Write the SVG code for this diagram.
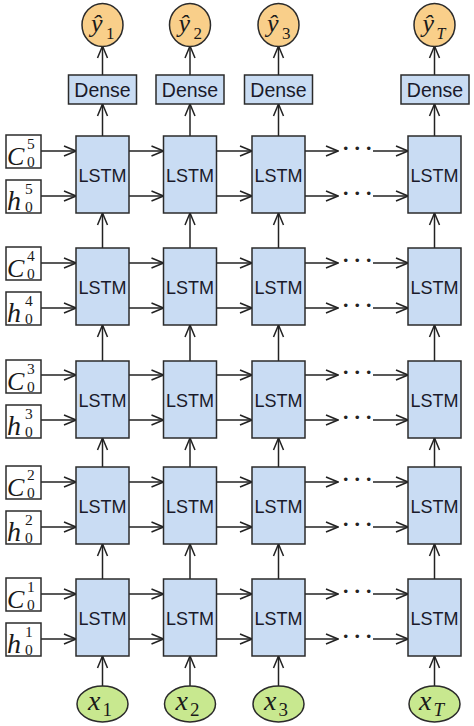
<svg xmlns="http://www.w3.org/2000/svg" width="474" height="726" viewBox="0 0 474 726">
<defs>
<style>
.lstm{fill:#c9dcf3;stroke:#2b2b2b;stroke-width:1.5}
.dense{fill:#c9dcf3;stroke:#2b2b2b;stroke-width:1.5}
.init{fill:#fff;stroke:#2b2b2b;stroke-width:1.5}
.out{fill:#f9cf8a;stroke:#2b2b2b;stroke-width:1.5}
.in{fill:#c8e88f;stroke:#2b2b2b;stroke-width:1.5}
.lbl{font-family:"Liberation Sans",Arial,sans-serif;fill:#1a1a2a;text-anchor:middle}
.m{font-family:"Liberation Serif","Times New Roman",serif;font-style:italic;fill:#1a1a1a}
.n{font-family:"Liberation Serif","Times New Roman",serif;fill:#1a1a1a}
.s{font-family:"Liberation Serif","Times New Roman",serif;fill:#1a1a1a;font-size:15.5px}
.c line{stroke:#222;stroke-width:1.5;marker-end:url(#ah)}
.dots{font-family:"Liberation Serif",serif;font-size:30px;fill:#222;text-anchor:middle;letter-spacing:1.5px}
</style>
<marker id="ah" markerUnits="userSpaceOnUse" markerWidth="15" markerHeight="13" viewBox="-14 -6.5 15 13" refX="0" refY="0" orient="auto">
<path d="M-12,-5 L0,0 L-12,5" fill="none" stroke="#222" stroke-width="1.5"/>
</marker>
</defs>

<g class="c" id="connectors">
<line x1="102.5" y1="686" x2="102.5" y2="656"/>
<line x1="190" y1="686" x2="190" y2="656"/>
<line x1="278.5" y1="686" x2="278.5" y2="656"/>
<line x1="434.5" y1="686" x2="434.5" y2="656"/>
<line x1="102.5" y1="579" x2="102.5" y2="544"/>
<line x1="190" y1="579" x2="190" y2="544"/>
<line x1="278.5" y1="579" x2="278.5" y2="544"/>
<line x1="434.5" y1="579" x2="434.5" y2="544"/>
<line x1="102.5" y1="467" x2="102.5" y2="438"/>
<line x1="190" y1="467" x2="190" y2="438"/>
<line x1="278.5" y1="467" x2="278.5" y2="438"/>
<line x1="434.5" y1="467" x2="434.5" y2="438"/>
<line x1="102.5" y1="361" x2="102.5" y2="325"/>
<line x1="190" y1="361" x2="190" y2="325"/>
<line x1="278.5" y1="361" x2="278.5" y2="325"/>
<line x1="434.5" y1="361" x2="434.5" y2="325"/>
<line x1="102.5" y1="248" x2="102.5" y2="213"/>
<line x1="190" y1="248" x2="190" y2="213"/>
<line x1="278.5" y1="248" x2="278.5" y2="213"/>
<line x1="434.5" y1="248" x2="434.5" y2="213"/>
<line x1="102.5" y1="136" x2="102.5" y2="104"/>
<line x1="190" y1="136" x2="190" y2="104"/>
<line x1="278.5" y1="136" x2="278.5" y2="104"/>
<line x1="434.5" y1="136" x2="434.5" y2="104"/>
<line x1="102.5" y1="75" x2="102.5" y2="46"/>
<line x1="190" y1="75" x2="190" y2="46"/>
<line x1="278.5" y1="75" x2="278.5" y2="46"/>
<line x1="434.5" y1="75" x2="434.5" y2="46"/>
<line x1="41" y1="151" x2="76" y2="151"/><line x1="129" y1="151" x2="163.5" y2="151"/><line x1="216.5" y1="151" x2="252" y2="151"/><line x1="305" y1="151" x2="338" y2="151"/><line x1="373" y1="151" x2="408" y2="151"/>
<line x1="41" y1="196" x2="76" y2="196"/><line x1="129" y1="196" x2="163.5" y2="196"/><line x1="216.5" y1="196" x2="252" y2="196"/><line x1="305" y1="196" x2="338" y2="196"/><line x1="373" y1="196" x2="408" y2="196"/>
<line x1="41" y1="263" x2="76" y2="263"/><line x1="129" y1="263" x2="163.5" y2="263"/><line x1="216.5" y1="263" x2="252" y2="263"/><line x1="305" y1="263" x2="338" y2="263"/><line x1="373" y1="263" x2="408" y2="263"/>
<line x1="41" y1="308" x2="76" y2="308"/><line x1="129" y1="308" x2="163.5" y2="308"/><line x1="216.5" y1="308" x2="252" y2="308"/><line x1="305" y1="308" x2="338" y2="308"/><line x1="373" y1="308" x2="408" y2="308"/>
<line x1="41" y1="375" x2="76" y2="375"/><line x1="129" y1="375" x2="163.5" y2="375"/><line x1="216.5" y1="375" x2="252" y2="375"/><line x1="305" y1="375" x2="338" y2="375"/><line x1="373" y1="375" x2="408" y2="375"/>
<line x1="41" y1="420" x2="76" y2="420"/><line x1="129" y1="420" x2="163.5" y2="420"/><line x1="216.5" y1="420" x2="252" y2="420"/><line x1="305" y1="420" x2="338" y2="420"/><line x1="373" y1="420" x2="408" y2="420"/>
<line x1="41" y1="482" x2="76" y2="482"/><line x1="129" y1="482" x2="163.5" y2="482"/><line x1="216.5" y1="482" x2="252" y2="482"/><line x1="305" y1="482" x2="338" y2="482"/><line x1="373" y1="482" x2="408" y2="482"/>
<line x1="41" y1="527" x2="76" y2="527"/><line x1="129" y1="527" x2="163.5" y2="527"/><line x1="216.5" y1="527" x2="252" y2="527"/><line x1="305" y1="527" x2="338" y2="527"/><line x1="373" y1="527" x2="408" y2="527"/>
<line x1="41" y1="594" x2="76" y2="594"/><line x1="129" y1="594" x2="163.5" y2="594"/><line x1="216.5" y1="594" x2="252" y2="594"/><line x1="305" y1="594" x2="338" y2="594"/><line x1="373" y1="594" x2="408" y2="594"/>
<line x1="41" y1="639" x2="76" y2="639"/><line x1="129" y1="639" x2="163.5" y2="639"/><line x1="216.5" y1="639" x2="252" y2="639"/><line x1="305" y1="639" x2="338" y2="639"/><line x1="373" y1="639" x2="408" y2="639"/>
</g>
<g id="ellipsis">
<text class="dots" x="358" y="158">···</text>
<text class="dots" x="358" y="203">···</text>
<text class="dots" x="358" y="270">···</text>
<text class="dots" x="358" y="315">···</text>
<text class="dots" x="358" y="382">···</text>
<text class="dots" x="358" y="427">···</text>
<text class="dots" x="358" y="489">···</text>
<text class="dots" x="358" y="534">···</text>
<text class="dots" x="358" y="601">···</text>
<text class="dots" x="358" y="646">···</text>
</g>

<g id="lstm-l5">
<rect class="lstm" x="76" y="136" width="53" height="77"/><text class="lbl" x="102.5" y="182" font-size="18">LSTM</text>
<rect class="lstm" x="163.5" y="136" width="53" height="77"/><text class="lbl" x="190" y="182" font-size="18">LSTM</text>
<rect class="lstm" x="252" y="136" width="53" height="77"/><text class="lbl" x="278.5" y="182" font-size="18">LSTM</text>
<rect class="lstm" x="408" y="136" width="53" height="77"/><text class="lbl" x="434.5" y="182" font-size="18">LSTM</text>
</g>
<g id="lstm-l4">
<rect class="lstm" x="76" y="248" width="53" height="77"/><text class="lbl" x="102.5" y="294" font-size="18">LSTM</text>
<rect class="lstm" x="163.5" y="248" width="53" height="77"/><text class="lbl" x="190" y="294" font-size="18">LSTM</text>
<rect class="lstm" x="252" y="248" width="53" height="77"/><text class="lbl" x="278.5" y="294" font-size="18">LSTM</text>
<rect class="lstm" x="408" y="248" width="53" height="77"/><text class="lbl" x="434.5" y="294" font-size="18">LSTM</text>
</g>
<g id="lstm-l3">
<rect class="lstm" x="76" y="361" width="53" height="77"/><text class="lbl" x="102.5" y="407" font-size="18">LSTM</text>
<rect class="lstm" x="163.5" y="361" width="53" height="77"/><text class="lbl" x="190" y="407" font-size="18">LSTM</text>
<rect class="lstm" x="252" y="361" width="53" height="77"/><text class="lbl" x="278.5" y="407" font-size="18">LSTM</text>
<rect class="lstm" x="408" y="361" width="53" height="77"/><text class="lbl" x="434.5" y="407" font-size="18">LSTM</text>
</g>
<g id="lstm-l2">
<rect class="lstm" x="76" y="467" width="53" height="77"/><text class="lbl" x="102.5" y="513" font-size="18">LSTM</text>
<rect class="lstm" x="163.5" y="467" width="53" height="77"/><text class="lbl" x="190" y="513" font-size="18">LSTM</text>
<rect class="lstm" x="252" y="467" width="53" height="77"/><text class="lbl" x="278.5" y="513" font-size="18">LSTM</text>
<rect class="lstm" x="408" y="467" width="53" height="77"/><text class="lbl" x="434.5" y="513" font-size="18">LSTM</text>
</g>
<g id="lstm-l1">
<rect class="lstm" x="76" y="579" width="53" height="77"/><text class="lbl" x="102.5" y="625" font-size="18">LSTM</text>
<rect class="lstm" x="163.5" y="579" width="53" height="77"/><text class="lbl" x="190" y="625" font-size="18">LSTM</text>
<rect class="lstm" x="252" y="579" width="53" height="77"/><text class="lbl" x="278.5" y="625" font-size="18">LSTM</text>
<rect class="lstm" x="408" y="579" width="53" height="77"/><text class="lbl" x="434.5" y="625" font-size="18">LSTM</text>
</g>

<g id="dense">
<rect class="dense" x="68.5" y="75" width="68" height="29"/><text class="lbl" x="102.5" y="97" font-size="19.5">Dense</text>
<rect class="dense" x="156" y="75" width="68" height="29"/><text class="lbl" x="190" y="97" font-size="19.5">Dense</text>
<rect class="dense" x="244.5" y="75" width="68" height="29"/><text class="lbl" x="278.5" y="97" font-size="19.5">Dense</text>
<rect class="dense" x="401" y="75" width="68" height="29"/><text class="lbl" x="435" y="97" font-size="19.5">Dense</text>
</g>

<g id="outputs">
<ellipse class="out" cx="102.5" cy="25" rx="20.5" ry="21.5"/><text class="m" x="91" y="32" font-size="26">ŷ</text><text class="n" x="106" y="39" font-size="17">1</text>
<ellipse class="out" cx="190" cy="25" rx="20.5" ry="21.5"/><text class="m" x="178.5" y="32" font-size="26">ŷ</text><text class="n" x="193.5" y="39" font-size="17">2</text>
<ellipse class="out" cx="278.5" cy="25" rx="20.5" ry="21.5"/><text class="m" x="267" y="32" font-size="26">ŷ</text><text class="n" x="282" y="39" font-size="17">3</text>
<ellipse class="out" cx="434.5" cy="25" rx="20.5" ry="21.5"/><text class="m" x="422.5" y="32" font-size="26">ŷ</text><text class="m" x="436.5" y="39" font-size="16">T</text>
</g>

<g id="inputs">
<ellipse class="in" cx="102.5" cy="704" rx="25.5" ry="18"/><text class="m" x="88" y="710" font-size="28">x</text><text class="n" x="102.5" y="716" font-size="19">1</text>
<ellipse class="in" cx="190" cy="704" rx="25.5" ry="18"/><text class="m" x="175.5" y="710" font-size="28">x</text><text class="n" x="190" y="716" font-size="19">2</text>
<ellipse class="in" cx="278.5" cy="704" rx="25.5" ry="18"/><text class="m" x="264" y="710" font-size="28">x</text><text class="n" x="278.5" y="716" font-size="19">3</text>
<ellipse class="in" cx="434.5" cy="704" rx="25.5" ry="18"/><text class="m" x="419" y="710" font-size="28">x</text><text class="m" x="433.5" y="716" font-size="19">T</text>
</g>

<g id="init-5">
<rect class="init" x="6" y="135" width="35" height="33"/><text class="m" x="7" y="165" font-size="26">C</text><text class="s" x="27" y="149">5</text><text class="s" x="27" y="166.5">0</text>
<rect class="init" x="6" y="180" width="35" height="33"/><text class="m" x="7" y="210" font-size="28">h</text><text class="s" x="25" y="194">5</text><text class="s" x="25" y="211.5">0</text>
</g>
<g id="init-4">
<rect class="init" x="6" y="247" width="35" height="33"/><text class="m" x="7" y="277" font-size="26">C</text><text class="s" x="27" y="261">4</text><text class="s" x="27" y="278.5">0</text>
<rect class="init" x="6" y="292" width="35" height="33"/><text class="m" x="7" y="322" font-size="28">h</text><text class="s" x="25" y="306">4</text><text class="s" x="25" y="323.5">0</text>
</g>
<g id="init-3">
<rect class="init" x="6" y="360" width="35" height="33"/><text class="m" x="7" y="390" font-size="26">C</text><text class="s" x="27" y="374">3</text><text class="s" x="27" y="391.5">0</text>
<rect class="init" x="6" y="405" width="35" height="33"/><text class="m" x="7" y="435" font-size="28">h</text><text class="s" x="25" y="419">3</text><text class="s" x="25" y="436.5">0</text>
</g>
<g id="init-2">
<rect class="init" x="6" y="466" width="35" height="33"/><text class="m" x="7" y="496" font-size="26">C</text><text class="s" x="27" y="480">2</text><text class="s" x="27" y="497.5">0</text>
<rect class="init" x="6" y="511" width="35" height="33"/><text class="m" x="7" y="541" font-size="28">h</text><text class="s" x="25" y="525">2</text><text class="s" x="25" y="542.5">0</text>
</g>
<g id="init-1">
<rect class="init" x="6" y="578" width="35" height="33"/><text class="m" x="7" y="608" font-size="26">C</text><text class="s" x="27" y="592">1</text><text class="s" x="27" y="609.5">0</text>
<rect class="init" x="6" y="623" width="35" height="33"/><text class="m" x="7" y="653" font-size="28">h</text><text class="s" x="25" y="637">1</text><text class="s" x="25" y="654.5">0</text>
</g>
</svg>
